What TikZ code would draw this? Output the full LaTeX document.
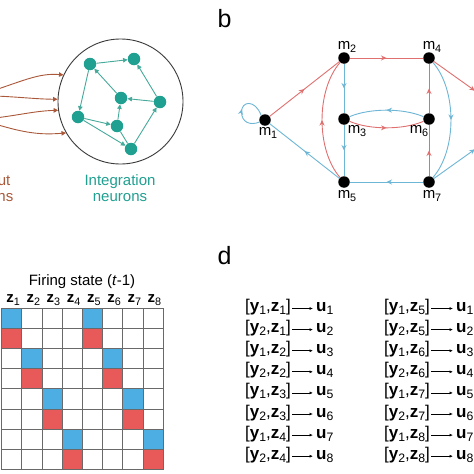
\documentclass[tikz,border=0pt]{standalone}
\usepackage{fontspec}
\setmainfont{Liberation Sans}
\usepackage{graphicx}
\usetikzlibrary{arrows.meta,decorations.markings}
\definecolor{tealc}{RGB}{32,160,145}
\definecolor{tealline}{RGB}{70,170,155}
\definecolor{brownc}{RGB}{170,88,58}
\definecolor{rededge}{RGB}{224,112,112}
\definecolor{blueedge}{RGB}{110,182,214}
\definecolor{cellblue}{RGB}{76,174,226}
\definecolor{cellred}{RGB}{232,90,90}
\definecolor{gridgray}{RGB}{105,105,105}
\definecolor{ringgray}{RGB}{60,60,60}
\newcommand{\fsz}[1]{\fontsize{#1}{#1}\selectfont}
\newcommand{\sbs}[1]{\raisebox{-3pt}{\scalebox{0.72}{#1}}}
\begin{document}
\begin{tikzpicture}[x=1pt,y=-1pt,
  tnode/.style={circle,fill=tealc,inner sep=0pt,minimum size=12.5pt},
  tline/.style={tealline,line width=0.9pt},
  tedge/.style={tline,-{Triangle[length=4.5pt,width=4.5pt]}},
  bredge/.style={brownc,line width=0.9pt,-{Triangle[length=4.5pt,width=4.5pt]}},
  mnode/.style={circle,fill=black,inner sep=0pt,minimum size=11.5pt},
  redge/.style={rededge,line width=0.9pt},
  bedge/.style={blueedge,line width=0.9pt},
  midarr/.style={postaction={decorate},decoration={markings,mark=at position 0.5 with {\arrow{Stealth[length=5.5pt,width=5pt]}}}},
  mlab/.style={font=\fsz{15},inner sep=0pt},
  gridline/.style={gridgray,line width=0.8pt},
  maplab/.style={font=\fsz{17},inner sep=0pt,anchor=base west},
  maparr/.style={line width=0.7pt,-{Latex[length=3.5pt,width=3pt]}},
  panlab/.style={font=\fsz{25},inner sep=0pt,anchor=base}
]
\useasboundingbox (0,0) rectangle (474,474);
\clip (0,0) rectangle (474,474);
\fill[white] (0,0) rectangle (474,474);

% ---------------- panel a ----------------
\node[draw=ringgray,line width=0.9pt,circle,minimum size=125pt,inner sep=0pt] (pool) at (120.5,101.5) {};
\node[tnode] (n1) at (90,64) {};
\node[tnode] (n2) at (134,59) {};
\node[tnode] (n3) at (121,98) {};
\node[tnode] (n4) at (160,102) {};
\node[tnode] (n5) at (78,117) {};
\node[tnode] (n6) at (117,126) {};
\node[tnode] (n7) at (131,149) {};
\draw[tedge] (n1) -- (n2);
\draw[tedge] (n4) -- (n2);
\draw[tedge] (n3) -- (n1);
\draw[tedge] (n4) -- (n3);
\draw[tedge] (n6) -- (n3);
\draw[tedge] (n1) -- (n5);
\draw[tedge] (n5) -- (n6);
\draw[tedge] (n5) -- (n7);
\draw[tline] (n6) -- (n7);
\draw[tedge] (n7) -- (n4);

\coordinate (i1) at (-5,90);
\coordinate (i2) at (-5,96);
\coordinate (i3) at (-5,118);
\coordinate (i4) at (-5,124);
\draw[bredge] (i1) .. controls (25,80) and (40,73) .. (pool.155);
\draw[bredge] (i2) .. controls (20,97) and (35,99) .. (pool.178);
\draw[bredge] (i3) .. controls (20,115) and (35,111) .. (pool.188);
\draw[bredge] (i4) .. controls (25,133) and (40,135) .. (pool.210);

\node[font=\fsz{15},text=brownc,inner sep=0pt,anchor=base east] (inlab1) at (10.5,185) {Input};
\node[font=\fsz{15},text=brownc,inner sep=0pt,anchor=base east] (inlab2) at (13.5,201.7) {neurons};
\node[font=\fsz{15},text=tealc,inner sep=0pt,anchor=base] (intlab1) at (120,185) {Integration};
\node[font=\fsz{15},text=tealc,inner sep=0pt,anchor=base] (intlab2) at (120,201.7) {neurons};

% ---------------- panel b ----------------
\node[panlab] (labb) at (224.5,27) {b};
\node[mnode] (m1) at (265,120) {};
\node[mnode] (m2) at (344,58) {};
\node[mnode] (m3) at (344,119) {};
\node[mnode] (m4) at (429,58) {};
\node[mnode] (m5) at (344,182) {};
\node[mnode] (m6) at (429,119) {};
\node[mnode] (m7) at (429,182) {};
\coordinate (m8) at (516,120);

\draw[bedge,midarr] (m1.200) .. controls (250,126) and (241.5,122) .. (241.5,112) .. controls (241.5,101) and (255,99) .. (m1.130);
\draw[redge,midarr] (m1) -- (m2);
\draw[bedge,midarr] (m5) -- (m1);
\draw[redge,midarr] (m2) -- (m4);
\draw[bedge,midarr] (m2) -- (m3);
\draw[bedge,midarr] (m3) -- (m5);
\draw[redge,midarr] (m5) .. controls (316,150) and (316,90) .. (m2);
\draw[redge,midarr] (m3) .. controls (370,130) and (403,130) .. (m6);
\draw[bedge,midarr] (m6) .. controls (403,108) and (370,108) .. (m3);
\draw[redge,midarr] (m6) -- (m4);
\draw[redge,midarr] (m7) -- (m6);
\draw[bedge,midarr] (m7) -- (m5);
\draw[bedge,midarr] (m4) .. controls (457,90) and (457,150) .. (m7);
\draw[redge,midarr] (m4) -- (m8);
\draw[bedge,midarr] (m7) -- (m8);

\node[mlab] (lm1) at (268,133) {m\sbs{1}};
\node[mlab] (lm2) at (347,47) {m\sbs{2}};
\node[mlab] (lm3) at (357,131) {m\sbs{3}};
\node[mlab] (lm4) at (432,47) {m\sbs{4}};
\node[mlab] (lm5) at (347,196) {m\sbs{5}};
\node[mlab] (lm6) at (419,131) {m\sbs{6}};
\node[mlab] (lm7) at (432,196) {m\sbs{7}};

% ---------------- panel c ----------------
\node[font=\fsz{15},inner sep=0pt,anchor=base] (fstate) at (82,285) {Firing state (\textit{t}-1)};
\foreach \r in {1,3,5,7}{
  \pgfmathsetmacro{\cc}{(\r+1)/2}
  \fill[cellblue] (1.5+20.2*\cc-20.2,308+20.2*\r-20.2) rectangle ++(20.2,20.2);
  \fill[cellblue] (1.5+20.2*\cc+60.6,308+20.2*\r-20.2) rectangle ++(20.2,20.2);
}
\foreach \r in {2,4,6,8}{
  \pgfmathsetmacro{\cc}{\r/2}
  \fill[cellred] (1.5+20.2*\cc-20.2,308+20.2*\r-20.2) rectangle ++(20.2,20.2);
  \fill[cellred] (1.5+20.2*\cc+60.6,308+20.2*\r-20.2) rectangle ++(20.2,20.2);
}
\foreach \k in {0,...,8}{
  \draw[gridline] (1.5+20.2*\k,308) -- (1.5+20.2*\k,469.6);
  \draw[gridline] (1.5,308+20.2*\k) -- (163.1,308+20.2*\k);
}
\foreach \c in {1,...,8}{
  \node[font=\fsz{15},inner sep=0pt,anchor=base] (z\c) at (1.5+20.2*\c-10.1+1.5,302) {\textbf{z}\sbs{\c}};
}

% ---------------- panel d ----------------
\node[panlab] (labd) at (224.5,264) {d};
\foreach \i/\y/\z in {1/1/1,2/2/1,3/1/2,4/2/2,5/1/3,6/2/3,7/1/4,8/2/4}{
  \node[maplab] (la\i) at (245,311.5+21.1*\i-21.1) {[\textbf{y}\sbs{\y},\textbf{z}\sbs{\z}]};
  \node[maplab] (ua\i) at (316,311.5+21.1*\i-21.1) {\textbf{u}\sbs{\i}};
  \draw[maparr] ([xshift=1pt,yshift=3pt]la\i.base east) -- ([xshift=-3pt,yshift=3pt]ua\i.base west);
}
\foreach \i/\y/\z in {1/1/5,2/2/5,3/1/6,4/2/6,5/1/7,6/2/7,7/1/8,8/2/8}{
  \node[maplab] (lb\i) at (384,311.5+21.1*\i-21.1) {[\textbf{y}\sbs{\y},\textbf{z}\sbs{\z}]};
  \node[maplab] (ub\i) at (456,311.5+21.1*\i-21.1) {\textbf{u}\sbs{\i}};
  \draw[maparr] ([xshift=1pt,yshift=3pt]lb\i.base east) -- ([xshift=-3pt,yshift=3pt]ub\i.base west);
}
\end{tikzpicture}
\end{document}
